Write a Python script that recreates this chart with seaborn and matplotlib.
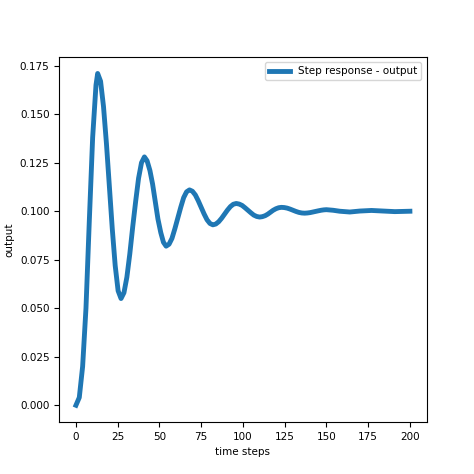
import numpy as np
import pandas as pd
import matplotlib
matplotlib.use("Agg")
import matplotlib.pyplot as plt
import seaborn as sns

# values
time_steps = [0, 2, 4, 6, 8, 10, 12,
              13, 14.75, 16.5, 18.25, 20, 21.75, 23.5, 25.25,
              27, 28.75, 30.5, 32.25, 34, 35.75, 37.5, 39.25,
              41, 42.6, 44.3, 45.9, 47.5, 49.1, 50.8, 52.4,
              54, 55.75, 57.5, 59.25, 61, 62.75, 64.5, 66.25,
              68, 69.75, 71.5, 73.25, 75, 76.75, 78.5, 80.25,
              82, 83.75, 85.5, 87.25, 89, 90.75, 92.5, 94.25,
              96, 97.75, 99.5, 101.25, 103, 104.75, 106.5, 108.25,
              110, 111.6, 113.3, 114.9, 116.5, 118.1, 119.8, 121.4,
              123, 124.75, 126.5, 128.25, 130, 131.75, 133.5, 135.25,
              137, 138.6, 140.3, 141.9, 143.5, 145.1, 146.8, 148.4,
              150, 154, 158, 164, 170, 177, 184, 191, 200]
output = [0.0, 0.004, 0.02, 0.05, 0.095, 0.138, 0.165,
          0.171, 0.167, 0.154, 0.135, 0.113, 0.091, 0.072, 0.059,
          0.055, 0.058, 0.066, 0.078, 0.092, 0.105, 0.117, 0.125,
          0.128, 0.126, 0.121, 0.114, 0.105, 0.096, 0.089, 0.084,
          0.082, 0.083, 0.086, 0.091, 0.0965, 0.102, 0.107, 0.110,
          0.111, 0.1103, 0.1084, 0.1054, 0.102, 0.0986, 0.0956, 0.0937,
          0.093, 0.0934, 0.0946, 0.0964, 0.0985, 0.1006, 0.1024, 0.1036,
          0.104, 0.1037, 0.1030, 0.1018, 0.1005, 0.0992, 0.0980, 0.0973,
          0.097, 0.0972, 0.0977, 0.0985, 0.0995, 0.1005, 0.1013, 0.1018,
          0.102, 0.1019, 0.1016, 0.1011, 0.1005, 0.0999, 0.0994, 0.0991,
          0.099, 0.0991, 0.0993, 0.0996, 0.0999, 0.1002, 0.1005, 0.1007,
          0.1008, 0.1005, 0.1000, 0.0996, 0.1001, 0.1004, 0.1001, 0.0998, 0.1000]

df = pd.DataFrame({"time steps": time_steps, "output": output})

fig, ax = plt.subplots(figsize=(4.74, 4.74), dpi=100)
sns.lineplot(data=df, x="time steps", y="output", ax=ax, color="#1f77b4",
             linewidth=3.5, label="Step response - output")
ax.set_yticks(np.arange(0, 0.176, 0.025))
ax.tick_params(labelsize=7.5)
ax.set_xlabel("time steps", fontsize=7.5)
ax.set_ylabel("output", fontsize=7.5)
ax.legend(loc="upper right", fontsize=7.5)
plt.subplots_adjust(left=0.125, right=0.9, bottom=0.11, top=0.88)
plt.savefig("out.png", dpi=100)
